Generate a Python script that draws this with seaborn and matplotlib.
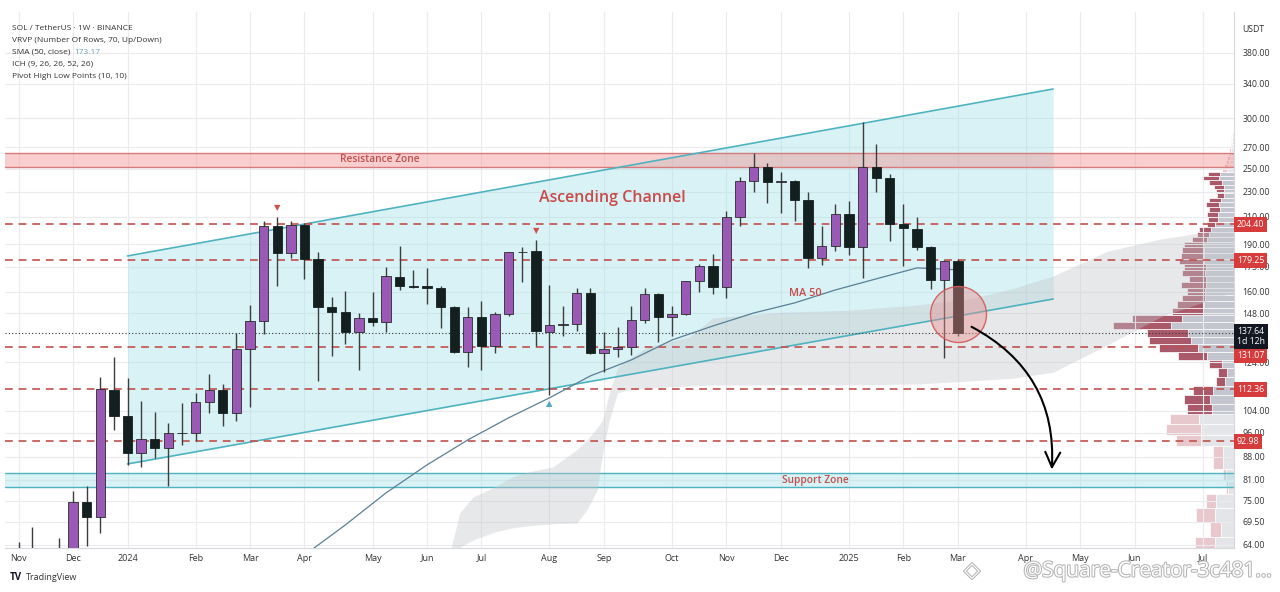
import numpy as np
import pandas as pd
import matplotlib
matplotlib.use("Agg")
import matplotlib.pyplot as plt
import matplotlib.dates as mdates
import matplotlib.patheffects as pe
from matplotlib.ticker import FixedLocator, FixedFormatter, NullLocator
import seaborn as sns

# ---------------- data ----------------
first_week = "2023-11-06"   # weekly candles (Monday open)
opens = [42.0, 56.0, 58.5, 57.0, 61.0, 74.7, 70.8, 112.0, 101.8, 89.3,
         93.7, 90.9, 96.0, 95.7, 107.4, 112.0, 103.2, 130.1, 143.8, 203.0,
         183.9, 203.7, 179.9, 151.3, 148.5, 138.1, 145.4, 143.3, 168.8, 163.5,
         163.5, 162.4, 151.3, 128.7, 146.0, 131.6, 147.5, 184.6, 185.3, 138.1,
         141.7, 142.2, 159.4, 128.3, 130.1, 131.1, 144.4, 158.9, 146.0, 147.5,
         166.3, 175.6, 162.9, 209.7, 238.7, 251.4, 237.9, 238.7, 222.8, 180.5,
         188.6, 212.1, 187.9, 251.4, 241.3, 204.4, 200.7, 187.9, 166.9, 178.6]
highs = [64.5, 68.1, 62.0, 65.6, 77.8, 79.2, 117.4, 126.3, 117.0, 107.8,
         103.6, 99.5, 106.7, 111.0, 118.7, 114.4, 137.6, 152.4, 206.4, 209.5,
         206.4, 205.5, 185.0, 157.1, 160.6, 148.0, 160.0, 175.0, 188.9, 173.1,
         174.4, 163.5, 152.0, 151.3, 154.6, 148.5, 185.0, 188.2, 192.8, 164.1,
         151.8, 162.4, 162.0, 138.1, 140.7, 151.8, 162.4, 159.5, 151.8, 166.3,
         177.0, 183.2, 214.3, 242.1, 264.4, 255.5, 246.6, 239.5, 229.2, 203.0,
         219.6, 222.0, 295.6, 273.0, 245.0, 219.6, 209.5, 188.6, 179.2, 179.9]
lows = [40.5, 52.0, 52.5, 55.0, 58.5, 63.7, 66.8, 97.0, 85.5, 84.9,
        87.7, 79.0, 91.7, 93.3, 103.2, 98.5, 100.3, 105.2, 137.1, 163.5,
        180.5, 167.4, 115.7, 126.9, 132.5, 120.3, 141.2, 138.1, 161.2, 162.4,
        153.0, 140.2, 127.9, 121.8, 120.6, 127.9, 146.5, 165.9, 131.6, 110.0,
        136.1, 138.6, 127.5, 119.7, 126.4, 127.4, 142.7, 133.5, 136.1, 147.0,
        160.0, 158.9, 156.2, 203.0, 230.0, 220.4, 213.0, 206.4, 174.4, 176.3,
        185.7, 182.6, 168.0, 230.0, 191.9, 175.6, 186.0, 161.7, 125.9, 136.5]
closes = [56.0, 58.5, 57.0, 61.0, 74.7, 70.8, 112.4, 101.8, 89.3, 93.7,
          90.9, 96.0, 95.7, 107.4, 112.0, 103.2, 130.1, 143.8, 203.0, 183.9,
          203.7, 179.9, 151.3, 148.5, 138.1, 145.4, 143.3, 169.4, 163.5, 163.0,
          162.4, 151.3, 128.7, 146.0, 131.6, 147.5, 184.6, 185.0, 138.6, 141.7,
          142.2, 159.4, 128.3, 130.1, 131.1, 144.4, 158.9, 146.0, 147.5, 166.3,
          175.6, 162.9, 209.7, 238.7, 251.4, 237.9, 238.7, 222.8, 180.5, 188.6,
          212.1, 187.9, 251.4, 241.3, 204.4, 201.4, 187.9, 166.9, 178.6, 137.64]

# SMA(50) (week index from first_week, value)
sma_week = [21, 24, 27, 30, 33, 36, 39, 42, 45, 48, 51, 54, 57, 60, 63, 66, 69]
sma_vals = [61.6, 68.7, 77.2, 85.4, 93.5, 101.3, 108.9, 117.9, 124.9, 134.3,
            141.3, 148.1, 153.6, 161.0, 167.6, 174.4, 173.17]

# Ichimoku cloud edges (week index, upper, lower)
cloud_week = [31.8, 32.4, 33.4, 35.0, 36.3, 37.5, 39.25, 41.0, 41.75, 42.5, 42.9, 43.4, 44.0,
              44.7, 46.2, 49.3, 51, 56, 61, 66, 70, 73, 76, 80, 84, 90]
cloud_top = [63.5, 71.8, 76.1, 78.9, 81.8, 83.3, 84.8, 90.2, 93.5, 97.7, 100.5, 110.9, 121.4,
             124.9, 131.0, 135.8, 145.5, 148.5, 149.6, 152.4, 156.2, 161.7, 169.4, 185.3, 193.8, 202.9]
cloud_bot = [63.3, 63.3, 65.1, 67.0, 68.0, 68.5, 69.0, 69.2, 72.6, 78.0, 89.2, 100.5, 110.9,
             112.0, 112.9, 113.7, 114.1, 114.1, 114.1, 114.5, 115.8, 116.9, 119.5, 132.0, 146.4, 161.7]

# Ascending channel anchors
channel_week = [8, 76]
channel_upper = [182.1, 333.5]
channel_lower = [85.7, 155.8]

levels = [204.40, 179.25, 131.07, 112.36, 92.98]
level_label_shift = [0, 0, -6, 0, 0]
resistance_zone = (251.4, 264.9)
support_zone = (78.9, 82.8)
last_price = 137.64
price_ticks = [380, 340, 300, 270, 250, 230, 210, 190, 175, 160, 148, 124, 104, 96, 88, 81, 75, 69.5, 64]
month_labels = ["Nov", "Dec", "2024", "Feb", "Mar", "Apr", "May", "Jun", "Jul", "Aug", "Sep",
                "Oct", "Nov", "Dec", "2025", "Feb", "Mar", "Apr", "May", "Jun", "Jul"]

# Volume profile (VRVP, 70 rows)
vp_low, vp_step = 36.1, 3.7
vp_rows = list(range(7, 70))
vp_up = [20, 11, 19, 10, 2, 3, 10, 10, 25, 35, 29,
         25, 26, 20, 9, 9, 13, 29, 39, 42, 41, 58, 50, 31, 27,
         23, 18, 25, 17, 23, 22, 25, 23, 22, 19, 15, 12, 12, 8, 10, 11, 11, 13, 12, 7, 8, 10, 13, 17, 12,
         5, 4, 3, 3, 2, 2, 1, 1, 1, 0, 0, 0, 0]
vp_down = [19, 13, 19, 18, 6, 8, 11, 11, 33, 33, 35,
           22, 24, 21, 9, 7, 12, 27, 36, 43, 46, 63, 52, 31, 30,
           29, 29, 28, 28, 29, 28, 30, 30, 30, 31, 27, 25, 23, 19, 16, 16, 14, 15, 13, 10, 10, 10, 12, 15, 14,
           7, 6, 5, 4, 3, 3, 2, 2, 2, 2, 1, 1, 1]
value_area = (18, 56)

pivot_high_weeks = [19, 38]
pivot_low_weeks = [39]
circle_week, circle_price = 69, 147.5
arrow_from = (70.0, 140.9)
arrow_to = (75.9, 84.0)

# ---------------- style ----------------
sns.set_theme(style="white")
plt.rcParams["font.family"] = ["Open Sans", "DejaVu Sans"]

UP = "#9b59b6"
DOWN = "#14201f"
TEAL = "#4fb3bf"
RED = "#c0504d"
TXT = "#333333"

t0 = pd.Timestamp(first_week)
def wk(i):
    return mdates.date2num(t0 + pd.Timedelta(days=7 * i))

o = np.array(opens); h = np.array(highs); l = np.array(lows); c = np.array(closes)
x = np.array([wk(i) for i in range(len(o))])
up = c >= o

W, H = 1280, 592
fig = plt.figure(figsize=(W / 100, H / 100), dpi=100, facecolor="white")
ax = fig.add_axes([5 / W, 44 / H, 1229 / W, 536 / H])
ax2 = ax.twiny()
ax2.set_zorder(0)
ax.set_zorder(1)
ax.patch.set_visible(False)
ax2.patch.set_visible(True)
ax2.patch.set_facecolor("white")

ax.set_yscale("log")
ax.set_ylim(63.2, 440.8)
ax.set_xlim(mdates.date2num(pd.Timestamp("2023-10-30")), mdates.date2num(pd.Timestamp("2025-07-23")))

# volume profile on twin axis
ax2.set_xlim(1229, 0)
rows = np.array(vp_rows)
row_lo = vp_low + rows * vp_step
in_va = (rows >= value_area[0]) & (rows <= value_area[1])
c_dn = np.where(in_va, "#c3c6ce", "#e4e5e9")
c_up = np.where(in_va, "#a9596a", "#e9c8cd")
ax2.barh(row_lo, vp_down, left=0, height=vp_step, align="edge", color=c_dn, edgecolor="white", linewidth=0.5)
ax2.barh(row_lo, vp_up, left=vp_down, height=vp_step, align="edge", color=c_up, edgecolor="white", linewidth=0.5)
ax2.xaxis.set_visible(False)
for s in ax2.spines.values():
    s.set_visible(False)

# grid
months = pd.date_range("2023-11-01", "2025-07-01", freq="MS")
month_pos = [mdates.date2num(d + pd.Timedelta(days=(7 - d.weekday()) % 7)) for d in months]
ax.xaxis.set_major_locator(FixedLocator(month_pos))
ax.xaxis.set_major_formatter(FixedFormatter(month_labels))
ax.xaxis.set_minor_locator(NullLocator())
ax.yaxis.set_major_locator(FixedLocator(price_ticks))
ax.yaxis.set_major_formatter(FixedFormatter([f"{v:.2f}" for v in price_ticks]))
ax.yaxis.set_minor_locator(NullLocator())
ax.yaxis.tick_right()
ax.grid(True, color="#ebebee", lw=0.8)
ax.set_axisbelow(True)
ax.tick_params(axis="x", length=0, pad=4, labelsize=6.5, labelcolor=TXT)
ax.tick_params(axis="y", length=0, pad=6, labelsize=6.3, labelcolor=TXT)
for side in ["top", "left"]:
    ax.spines[side].set_visible(False)
for side in ["bottom", "right"]:
    ax.spines[side].set_color("#d6d8de")
    ax.spines[side].set_linewidth(0.8)

# zones
ax.axhspan(*resistance_zone, color="#f08c8c", alpha=0.42, lw=0, zorder=1.5)
for v in resistance_zone:
    ax.axhline(v, color="#d77a7c", lw=1.0, zorder=1.6)
ax.axhspan(*support_zone, color="#9fdfe6", alpha=0.4, lw=0, zorder=1.5)
for v in support_zone:
    ax.axhline(v, color=TEAL, lw=1.0, zorder=1.6)

# channel
chx = [wk(i) for i in channel_week]
ax.fill_between(chx, channel_lower, channel_upper, color="#9fdfe6", alpha=0.4, lw=0, zorder=1)
ax.plot(chx, channel_upper, color=TEAL, lw=1.2, zorder=3)
ax.plot(chx, channel_lower, color=TEAL, lw=1.2, zorder=3)

# ichimoku cloud
clx = [wk(i) for i in cloud_week]
ax.fill_between(clx, cloud_bot, cloud_top, color="#c4c6ca", alpha=0.4, lw=0, zorder=2)

# key levels
for v in levels:
    ax.axhline(v, color=RED, lw=1.4, ls=(0, (4, 3)), alpha=0.85, zorder=3.5)
ax.axhline(last_price, color="#333333", lw=0.8, ls=(0, (1, 2)), zorder=3.5)

# SMA 50
sns.lineplot(x=[wk(i) for i in sma_week], y=sma_vals, ax=ax, color="#5b7f95", lw=0.9, zorder=4, legend=False)

# candles
ax.vlines(x, l, h, color="#3d3d3d", lw=1.0, zorder=5)
body_lo = np.minimum(o, c)
body_h = np.maximum(np.abs(c - o), 0.15)
ax.bar(x[up], body_h[up], bottom=body_lo[up], width=4.8, color=UP, edgecolor="#2a2a2a", lw=0.6, zorder=6)
ax.bar(x[~up], body_h[~up], bottom=body_lo[~up], width=4.8, color=DOWN, edgecolor=DOWN, lw=0.6, zorder=6)

# pivot markers
for i in pivot_high_weeks:
    ax.annotate("▼", xy=(x[i], h[i]), xytext=(0, 4), textcoords="offset points", ha="center",
                va="bottom", color="#d05050", fontsize=6, zorder=7)
for i in pivot_low_weeks:
    ax.annotate("▲", xy=(x[i], l[i]), xytext=(0, -4), textcoords="offset points", ha="center",
                va="top", color="#4aa8c0", fontsize=6, zorder=7)

# circle + arrow
ax.scatter([wk(circle_week)], [circle_price], s=1625, facecolor=(0.92, 0.55, 0.55, 0.42),
           edgecolor=(0.82, 0.35, 0.35, 0.9), lw=1.0, zorder=7)
ax.annotate("", xy=(wk(arrow_to[0]), arrow_to[1]), xytext=(wk(arrow_from[0]), arrow_from[1]),
            arrowprops=dict(arrowstyle="->,head_length=0.9,head_width=0.45", color="black", lw=1.5,
                            connectionstyle="arc3,rad=-0.32", shrinkA=0, shrinkB=0), zorder=8)

# annotations
ax.text(wk(43.6), 224.7, "Ascending Channel", color="#c94a4a", fontsize=11.5, fontweight="semibold",
        ha="center", va="center", zorder=8)
ax.text(wk(26.5), 258.0, "Resistance Zone", color=RED, fontsize=7.3, fontweight="semibold",
        ha="center", va="center", zorder=8)
ax.text(wk(58.5), 80.8, "Support Zone", color=RED, fontsize=7.3, fontweight="semibold",
        ha="center", va="center", zorder=8)
ax.text(wk(57.8), 158.7, "MA 50", color="#c94a4a", fontsize=7.8, fontweight="semibold",
        ha="center", va="center", zorder=8)

# price-axis level boxes
for v, sh in zip(levels, level_label_shift):
    ax.annotate(f"{v:.2f}", xy=(1.0, v), xycoords=("axes fraction", "data"), xytext=(2, sh),
                textcoords="offset points", ha="left", va="center", color="white", fontsize=6.3,
                bbox=dict(boxstyle="square,pad=0.35", fc="#d63c3c", ec="none"), annotation_clip=False, zorder=10)
ax.annotate(f"{last_price:.2f}\n1d 12h", xy=(1.0, last_price), xycoords=("axes fraction", "data"),
            xytext=(2, -2.5), textcoords="offset points", ha="left", va="center", color="white",
            fontsize=6.3, linespacing=1.1,
            bbox=dict(boxstyle="square,pad=0.35", fc="#131722", ec="none"), annotation_clip=False, zorder=10)

# header texts
hdr = ["SOL / TetherUS · 1W · BINANCE", "VRVP (Number Of Rows, 70, Up/Down)", "SMA (50, close)",
       "ICH (9, 26, 26, 52, 26)", "Pivot High Low Points (10, 10)"]
for j, s in enumerate(hdr):
    t = fig.text(12 / W, 1 - (28 + 12 * j) / H, s, fontsize=6, color=TXT, va="center", ha="left")
    if j == 2:
        ax.annotate("173.17", xy=(1, 0.5), xycoords=t, xytext=(3, 0), textcoords="offset points",
                    fontsize=6, color="#6aa0c0", va="center", ha="left", annotation_clip=False)
fig.text(1253 / W, 1 - 30 / H, "USDT", fontsize=6.3, color=TXT, ha="center", va="center")

# footer
fig.text(10 / W, 1 - 578 / H, "TV", fontsize=7, fontweight="bold", color="#131722", va="center")
fig.text(26 / W, 1 - 578 / H, "TradingView", fontsize=6.5, color=TXT, va="center")
fig.text(972 / W, 1 - 571 / H, "◇", fontsize=15, color="white", va="center", ha="center",
         path_effects=[pe.withStroke(linewidth=1.5, foreground="#b5b5b5")])
fig.text(1272 / W, 1 - 571 / H, "@Square-Creator-3c481...", fontsize=15, color="white", va="center",
         ha="right", path_effects=[pe.withStroke(linewidth=1.5, foreground="#b5b5b5")])

fig.savefig("out.png", dpi=100, facecolor="white")
